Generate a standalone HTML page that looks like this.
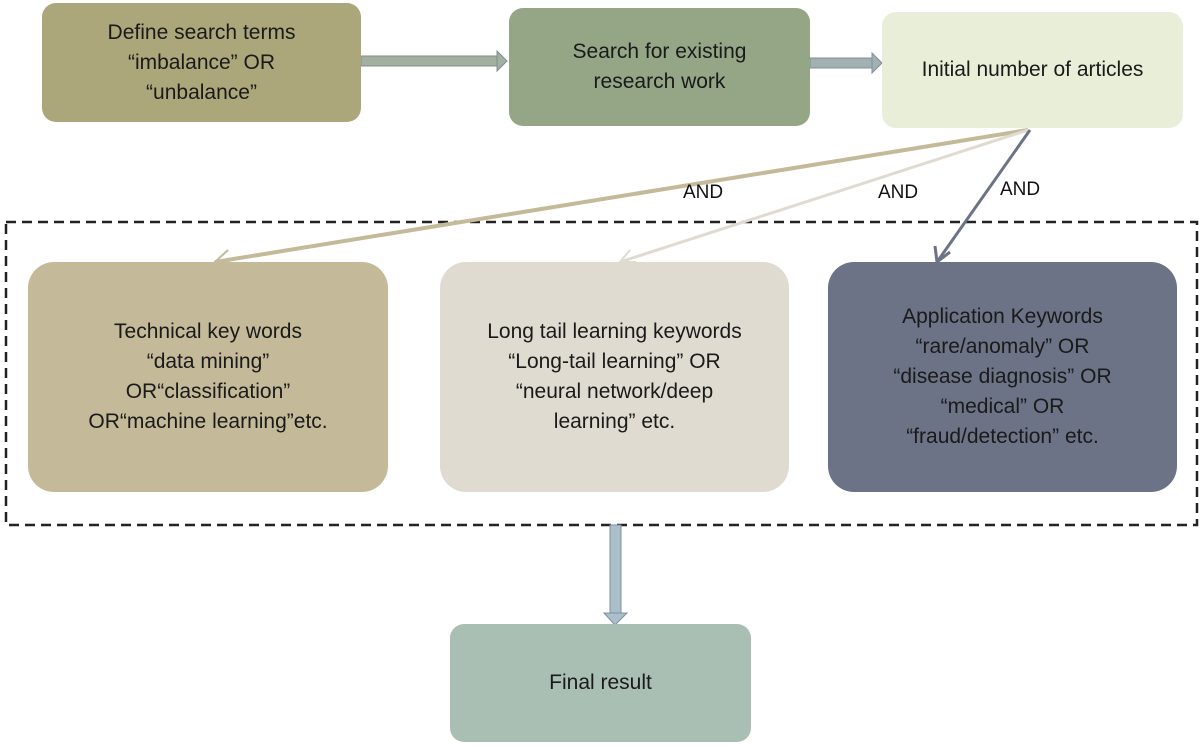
<!DOCTYPE html>
<html><head><style>
body{margin:0;width:1200px;height:747px;background:#fff;position:relative;overflow:hidden;font-family:"Liberation Sans",sans-serif;}
.b{position:absolute;display:flex;align-items:center;justify-content:center;text-align:center;color:#1a1a1a;border-radius:14px;font-size:21px;line-height:30px;box-sizing:border-box;}
.big{border-radius:26px;font-size:21px;line-height:30px;}
.l{position:absolute;font-size:19px;color:#111;}
</style></head><body>
<svg width="1200" height="747" style="position:absolute;left:0;top:0">
<rect x="6" y="222" width="1191" height="303" fill="none" stroke="#222" stroke-width="2.5" stroke-dasharray="10,6"/>
<rect x="361" y="56" width="136" height="10" fill="#a2b0a0" stroke="#7f8f8f"/>
<polygon points="497,51 507,61 497,71" fill="#a2b0a0" stroke="#7f8f8f"/>
<rect x="810" y="58" width="62" height="10" fill="#a2b0b0" stroke="#7f8f9f"/>
<polygon points="872,53 882,63 872,73" fill="#a2b0b0" stroke="#7f8f9f"/>
<line x1="1028" y1="130" x2="215" y2="262" stroke="#c4b998" stroke-width="4"/>
<polyline points="228,250 215,262 232,263" fill="none" stroke="#c4b998" stroke-width="2"/>
<line x1="1028" y1="130" x2="620" y2="262" stroke="#e0dbd0" stroke-width="3"/>
<polyline points="630,250 620,262 636,262" fill="none" stroke="#e0dbd0" stroke-width="2"/>
<line x1="1030" y1="130" x2="937" y2="262" stroke="#6c7386" stroke-width="3"/>
<polyline points="935,246 937,262 950,252" fill="none" stroke="#6c7386" stroke-width="3"/>
<rect x="610" y="525" width="11" height="88" fill="#aabfca" stroke="#7f8f9f"/>
<polygon points="604,613 627,613 615,625" fill="#aabfca" stroke="#7f8f9f"/>
</svg>
<div class="b" style="left:42px;top:3px;width:319px;height:119px;background:#aca77a">Define search terms<br>“imbalance” OR<br>“unbalance”</div>
<div class="b" style="left:509px;top:8px;width:301px;height:118px;background:#94a686">Search for existing<br>research work</div>
<div class="b" style="left:882px;top:12px;width:301px;height:116px;background:#e9eed9">Initial number of articles</div>
<div class="b big" style="left:28px;top:262px;width:360px;height:230px;background:#c4b998">Technical key words<br>“data mining”<br>OR“classification”<br>OR“machine learning”etc.</div>
<div class="b big" style="left:440px;top:262px;width:349px;height:230px;background:#e0dbd0">Long tail learning keywords<br>“Long-tail learning” OR<br>“neural network/deep<br>learning” etc.</div>
<div class="b big" style="left:828px;top:262px;width:349px;height:230px;background:#6c7386">Application Keywords<br>“rare/anomaly” OR<br>“disease diagnosis” OR<br>“medical” OR<br>“fraud/detection” etc.</div>
<div class="b" style="left:450px;top:624px;width:301px;height:118px;background:#aabfb4">Final result</div>
<div class="l" style="left:683px;top:182px">AND</div>
<div class="l" style="left:878px;top:182px">AND</div>
<div class="l" style="left:1000px;top:179px">AND</div>
</body></html>
